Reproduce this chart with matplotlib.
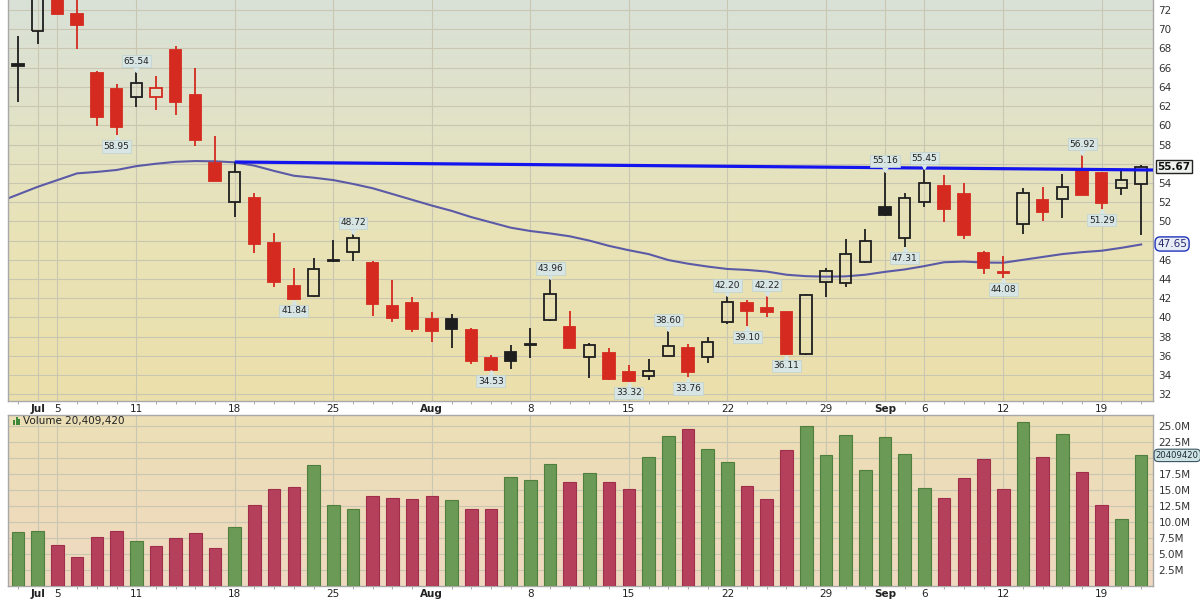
import numpy as np
import matplotlib
matplotlib.use("Agg")
import matplotlib.pyplot as plt
from matplotlib.colors import LinearSegmentedColormap
from matplotlib.patches import Rectangle
import matplotlib.transforms as mtransforms

# ---------------- data ----------------
dates = ["Jun 30", "Jul 1", "Jul 5", "Jul 6", "Jul 7", "Jul 8", "Jul 11", "Jul 12", "Jul 13",
         "Jul 14", "Jul 15", "Jul 18", "Jul 19", "Jul 20", "Jul 21", "Jul 22", "Jul 25",
         "Jul 26", "Jul 27", "Jul 28", "Jul 29", "Aug 1", "Aug 2", "Aug 3", "Aug 4", "Aug 5",
         "Aug 8", "Aug 9", "Aug 10", "Aug 11", "Aug 12", "Aug 15", "Aug 16", "Aug 17",
         "Aug 18", "Aug 19", "Aug 22", "Aug 23", "Aug 24", "Aug 25", "Aug 26", "Aug 29",
         "Aug 30", "Aug 31", "Sep 1", "Sep 2", "Sep 6", "Sep 7", "Sep 8", "Sep 9", "Sep 12",
         "Sep 13", "Sep 14", "Sep 15", "Sep 16", "Sep 19", "Sep 20", "Sep 21"]

opens = [66.4, 69.85, 74.0, 71.6, 65.4, 63.75, 62.9, 62.9, 67.85, 63.15, 56.1, 52.0, 52.4,
         47.8, 43.3, 42.2, 45.95, 46.8, 45.65, 41.2, 41.55, 39.8, 39.85, 38.7, 35.8, 36.45,
         37.1, 39.7, 39.0, 35.9, 36.3, 34.35, 33.9, 36.0, 36.8, 35.85, 39.55, 41.55, 41.0,
         40.55, 36.25, 43.7, 43.6, 45.75, 51.45, 48.3, 52.0, 53.7, 52.85, 46.7, 44.7, 49.7,
         52.2, 52.3, 55.35, 55.0, 53.45, 53.9]
highs = [69.3, 75.5, 74.6, 73.4, 65.6, 64.3, 65.54, 65.1, 68.25, 66.0, 58.9, 56.2, 53.0,
         48.8, 45.2, 46.2, 48.1, 48.72, 45.9, 43.9, 42.1, 40.55, 40.35, 38.9, 36.1, 37.1,
         38.9, 43.96, 40.7, 37.3, 36.8, 35.1, 35.65, 38.6, 37.2, 37.95, 42.2, 41.8, 42.22,
         40.6, 42.4, 45.1, 48.15, 49.2, 55.16, 53.0, 55.45, 54.85, 53.95, 46.95, 46.35, 53.5,
         53.6, 54.9, 56.92, 55.1, 55.35, 55.9]
lows = [62.4, 68.5, 71.55, 67.9, 59.9, 58.95, 61.9, 61.6, 61.05, 57.8, 54.2, 50.5, 46.7,
        43.2, 41.84, 42.1, 45.75, 45.9, 40.15, 39.55, 38.5, 37.4, 36.8, 35.2, 34.53, 34.6,
        35.8, 39.6, 36.8, 33.75, 33.5, 33.32, 33.5, 35.95, 33.76, 35.25, 39.3, 39.1, 40.1,
        36.11, 36.1, 42.1, 43.2, 45.7, 50.55, 47.31, 51.45, 49.95, 48.15, 44.55, 44.08, 48.65,
        50.0, 50.4, 52.7, 51.29, 52.75, 48.6]
closes = [66.2, 74.2, 71.6, 70.4, 60.9, 59.85, 64.4, 63.85, 62.45, 58.5, 54.2, 55.1, 47.7,
          43.7, 41.9, 45.05, 45.9, 48.25, 41.4, 39.9, 38.85, 38.55, 38.8, 35.5, 34.55, 35.5,
          37.25, 42.4, 36.85, 37.15, 33.6, 33.35, 34.45, 37.05, 34.35, 37.4, 41.65, 40.7, 40.6,
          36.15, 42.3, 44.85, 46.6, 48.0, 50.7, 52.4, 54.0, 51.3, 48.6, 45.1, 44.65, 53.0,
          51.0, 53.6, 52.75, 51.9, 54.3, 55.67]
prev_close = 64.9  # close before first visible session

volume_m = [8.4, 8.6, 6.4, 4.5, 7.7, 8.6, 7.1, 6.3, 7.5, 8.3, 5.9, 9.2, 12.6, 15.2, 15.4,
            18.9, 12.7, 12.0, 14.1, 13.8, 13.6, 14.1, 13.5, 12.1, 12.0, 17.0, 16.6, 19.0,
            16.2, 17.6, 16.2, 15.2, 20.1, 23.4, 24.5, 21.4, 19.4, 15.7, 13.6, 21.3, 25.0,
            20.4, 23.6, 18.2, 23.3, 20.7, 15.3, 13.8, 16.9, 19.9, 15.2, 25.7, 20.1, 23.8,
            17.8, 12.7, 10.4, 20.40942]
last_volume = 20409420

ma_prev = 52.0
ma50 = [52.8, 53.6, 54.3, 55.0, 55.15, 55.35, 55.75, 56.0, 56.2, 56.28, 56.25, 56.15, 55.8,
        55.25, 54.75, 54.55, 54.3, 53.9, 53.45, 52.85, 52.25, 51.65, 51.1, 50.45, 49.9,
        49.35, 49.0, 48.75, 48.45, 48.0, 47.45, 47.0, 46.6, 45.98, 45.6, 45.3, 45.05, 44.95,
        44.78, 44.45, 44.3, 44.25, 44.28, 44.45, 44.75, 45.0, 45.35, 45.75, 45.82, 45.72,
        45.7, 46.0, 46.3, 46.6, 46.8, 46.95, 47.25, 47.6]
ma_last_label = 47.65

trend_idx = [11, 57.6]
trend_val = [56.18, 55.35]

tick_idx = [1, 2, 6, 11, 16, 21, 26, 31, 36, 41, 44, 46, 50, 55]
tick_labels = ["Jul", "5", "11", "18", "25", "Aug", "8", "15", "22", "29", "Sep", "6", "12", "19"]
month_labels = ["Jul", "Aug", "Sep"]

high_label_idx = [6, 17, 27, 33, 36, 38, 44, 46, 54]
low_label_idx = [5, 14, 24, 31, 34, 37, 39, 45, 50, 55]

price_ticks = list(range(32, 73, 2))
vol_ticks = [2.5, 5.0, 7.5, 10.0, 12.5, 15.0, 17.5, 20.0, 22.5, 25.0]
# tick labels hidden behind the value boxes on the right edge
hidden_price_labels = [56, 48]
hidden_vol_labels = [20.0]

# ---------------- style ----------------
RED = "#d42a1f"
BLACK = "#1e1e1e"
VGREEN = "#6a9a55"
VGREEN_E = "#4f7f3e"
VRED = "#b4405c"
VRED_E = "#a02e4a"
GRID = "#c9c7b2"

n = len(closes)
x = np.arange(n)

fig = plt.figure(figsize=(12, 6), dpi=100)
fig.patch.set_facecolor("white")

ax = fig.add_axes([8 / 1200, 1 - 401 / 600, 1145 / 1200, 401 / 600])
axv = fig.add_axes([8 / 1200, 1 - 586 / 600, 1145 / 1200, 171 / 600])

price_cmap = LinearSegmentedColormap.from_list(
    "pbg", [(0.0, "#ece0ab"), (0.45, "#e8e3b8"), (1.0, "#d9e1d8")])
vol_cmap = LinearSegmentedColormap.from_list(
    "vbg", [(0.0, "#efd9c1"), (1.0, "#ecdfb5")])

for a, cm in ((ax, price_cmap), (axv, vol_cmap)):
    a.imshow(np.linspace(0, 1, 256).reshape(-1, 1), cmap=cm, origin="lower",
             extent=[0, 1, 0, 1], transform=a.transAxes, aspect="auto", zorder=0)

xmin, xmax = -0.508, 57.6

# ---------------- candles ----------------
w = 0.58
for i in range(n):
    o, h, l, c = opens[i], highs[i], lows[i], closes[i]
    pc = prev_close if i == 0 else closes[i - 1]
    col = RED if c < pc else BLACK
    top, bot = max(o, c), min(o, c)
    filled = c < o
    ax.vlines(i, top, h, color=col, lw=1.3, zorder=3)
    ax.vlines(i, l, bot, color=col, lw=1.3, zorder=3)
    ax.add_patch(Rectangle((i - w / 2, bot), w, max(top - bot, 0.08),
                           facecolor=col if filled else "none", edgecolor=col,
                           lw=1.3, zorder=4))

# moving average and trend line
ax.plot(np.arange(-1, n), [ma_prev] + ma50, color="#5b5aa6", lw=1.5, zorder=2)
ax.plot(trend_idx, trend_val, color="#1414ee", lw=2.3, zorder=5, solid_capstyle="butt")

# high / low labels
lab_fc = "#d7e6e4"
up_tr = mtransforms.offset_copy(ax.transData, fig=fig, x=0, y=2.2, units="points")
dn_tr = mtransforms.offset_copy(ax.transData, fig=fig, x=0, y=-2.2, units="points")
for i in high_label_idx:
    ax.annotate(f"{highs[i]:.2f}", xy=(i, highs[i]), xytext=(0, 7.8), textcoords="offset points",
                ha="center", va="center", fontsize=6.5, color="#222222", zorder=7,
                bbox=dict(boxstyle="square,pad=0.18", fc=lab_fc, ec="#bfd2d0", lw=0.5))
    ax.plot([i], [highs[i]], marker="v", ms=4.5, color=lab_fc, transform=up_tr, zorder=6)
for i in low_label_idx:
    ax.annotate(f"{lows[i]:.2f}", xy=(i, lows[i]), xytext=(0, -8.0), textcoords="offset points",
                ha="center", va="center", fontsize=6.5, color="#222222", zorder=7,
                bbox=dict(boxstyle="square,pad=0.18", fc=lab_fc, ec="#bfd2d0", lw=0.5))
    ax.plot([i], [lows[i]], marker="^", ms=4.5, color=lab_fc, transform=dn_tr, zorder=6)

# ---------------- volume ----------------
for i in range(n):
    pc = prev_close if i == 0 else closes[i - 1]
    down = closes[i] < pc
    axv.bar(i, volume_m[i], width=0.64, color=VRED if down else VGREEN,
            edgecolor=VRED_E if down else VGREEN_E, lw=0.8, zorder=3)

# ---------------- axes styling ----------------
ax.set_xlim(xmin, xmax)
ax.set_ylim(31.31, 73.04)
axv.set_xlim(xmin, xmax)
axv.set_ylim(0, 26.72)

for a in (ax, axv):
    a.set_axisbelow(True)
    a.set_xticks(tick_idx)
    a.set_xticks(x, minor=True)
    a.set_xticklabels(tick_labels)
    for t in a.get_xticklabels():
        t.set_fontsize(7.5)
        t.set_color("#222222")
        if t.get_text() in month_labels:
            t.set_fontweight("bold")
    a.tick_params(axis="x", which="major", length=0, pad=2.5)
    a.tick_params(axis="x", which="minor", length=2, color="#9a9a9a", direction="out")
    a.grid(True, axis="both", which="major", color=GRID, lw=0.8, zorder=1)
    a.yaxis.tick_right()
    a.tick_params(axis="y", length=0, pad=4, labelsize=7.5, labelcolor="#333333")
    for s in a.spines.values():
        s.set_color("#a8a8a8")
        s.set_linewidth(1.0)

ax.spines["top"].set_visible(False)
ax.set_yticks(price_ticks)
ax.set_yticklabels(["" if v in hidden_price_labels else str(v) for v in price_ticks])
axv.set_yticks(vol_ticks)
axv.set_yticklabels(["" if v in hidden_vol_labels else f"{v:.1f}M" for v in vol_ticks])

# right-side value boxes
bt = mtransforms.blended_transform_factory(ax.transAxes, ax.transData)
ax.annotate(f"{closes[-1]:.2f}", xy=(1.0, closes[-1]), xycoords=bt, xytext=(3, 0),
            textcoords="offset points", ha="left", va="center", fontsize=7.5,
            fontweight="bold", color="#111111", annotation_clip=False, zorder=8,
            bbox=dict(boxstyle="square,pad=0.15", fc="#eef2ee", ec="#222222", lw=1.0))
ax.annotate(f"{ma_last_label:.2f}", xy=(1.0, ma_last_label), xycoords=bt, xytext=(3, 0),
            textcoords="offset points", ha="left", va="center", fontsize=7.5,
            color="#2a2a70", annotation_clip=False, zorder=8,
            bbox=dict(boxstyle="round,pad=0.2,rounding_size=0.5", fc="#e8ecf4", ec="#2233bb", lw=1.0))
btv = mtransforms.blended_transform_factory(axv.transAxes, axv.transData)
axv.annotate(f"{last_volume}", xy=(1.0, volume_m[-1]), xycoords=btv, xytext=(2, 0),
             textcoords="offset points", ha="left", va="center", fontsize=6.1,
             color="#1c2c30", annotation_clip=False, zorder=8,
             bbox=dict(boxstyle="round,pad=0.2,rounding_size=0.5", fc="#cfe3e6", ec="#3b5560", lw=0.8))

# volume legend
axv.text(15 / 1145, 0.965, f"Volume {last_volume:,}", transform=axv.transAxes,
         ha="left", va="center", fontsize=7.5, color="#222222", zorder=8)
for k, hh in enumerate([5, 8, 6]):
    axv.add_patch(Rectangle(((5 + 2.6 * k) / 1145, (171 - 10) / 171), 2 / 1145,
                            hh / 171, transform=axv.transAxes, facecolor="#3f8a3a",
                            edgecolor="none", zorder=8, clip_on=False))

fig.savefig("out.png", dpi=100, facecolor="white")
